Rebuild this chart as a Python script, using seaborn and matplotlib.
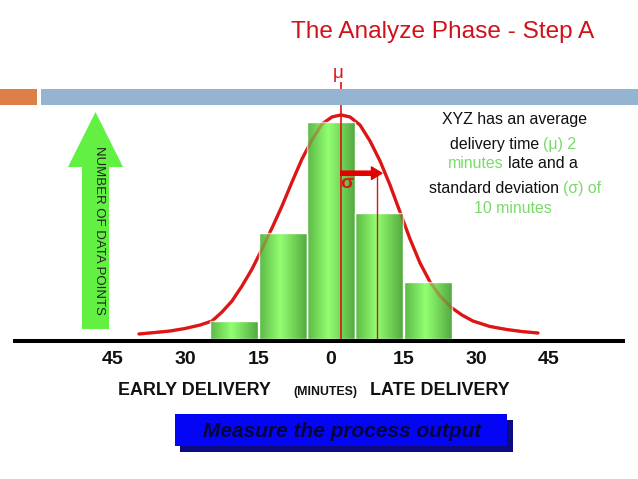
import numpy as np
import pandas as pd
import matplotlib
matplotlib.use('Agg')
import matplotlib.pyplot as plt
import seaborn as sns
from matplotlib.patches import Rectangle, Polygon, FancyArrowPatch

# ---------------- data ----------------
bin_centers = [-20, -10, 0, 10, 20]          # minutes (negative = early)
counts = [2.1, 12.2, 25.0, 14.5, 6.6]        # number of data points

curve_minutes = [-39.64, -36.33, -33.24, -30.14, -27.04, -24.57, -22.50, -20.44,
                 -18.37, -16.31, -14.24, -12.18, -10.12, -8.05, -5.99, -3.92,
                 -1.86, 0.21, 2.06, 3.92, 5.99, 8.05, 10.12, 12.18, 14.24, 16.31,
                 18.37, 20.44, 22.50, 24.98, 27.04, 29.31, 32.82, 36.33, 39.43, 42.73]
curve_values = [0.58, 0.75, 0.92, 1.21, 1.61, 2.07, 3.11, 4.38,
                6.11, 8.06, 10.37, 12.79, 15.32, 18.09, 20.74, 22.93,
                24.77, 25.58, 25.81, 25.58, 24.65, 22.81, 20.51, 17.74, 14.63, 11.52,
                8.76, 6.57, 4.95, 3.57, 2.76, 2.07, 1.44, 1.09, 0.86, 0.69]

tick_positions = [-45, -30, -15, 0, 15, 30, 45]
tick_labels = ['45', '30', '15', '0', '15', '30', '45']

mu_x = 2.0             # mean line (minutes)
sigma_line_x = 9.5     # sigma marker line as drawn
sigma_arrow_end = 10.5
sigma_level = 19.1
mu_line_top = 29.6
sigma_line_top = 19.2

title = 'The Analyze Phase - Step A'
info_lines = [
    [('XYZ has an average', 'k')],
    [('delivery time ', 'k'), ('(\u03bc) 2', 'g')],
    [('minutes', 'g'), (' late and a', 'k')],
    [('standard deviation ', 'k'), ('(\u03c3) of', 'g')],
    [('10 minutes', 'g')],
]

# ---------------- figure ----------------
W, H = 638, 479
sns.set_theme(style='white')
plt.rcParams['font.family'] = ['Liberation Sans', 'DejaVu Sans']

fig = plt.figure(figsize=(W / 100, H / 100), dpi=100)
fig.patch.set_facecolor('white')


def fx(x):
    return x / W


def fy(y):
    return 1 - y / H


RED = '#DD1515'
GREEN_TXT = '#7ADB6A'

# axes positioned in pixels: x 15..623, bottom spine at 341, top at 60
ax = fig.add_axes([fx(15), fy(341), (623 - 15) / W, (341 - 60) / H])
ax.patch.set_alpha(0)

df = pd.DataFrame({'minutes': bin_centers, 'count': counts})
sns.barplot(data=df, x='minutes', y='count', native_scale=True, width=0.99,
            color='#7EE05A', edgecolor='white', linewidth=1.0, errorbar=None,
            ax=ax, zorder=2)

# horizontal gradient for each bar
stops = np.array([0.0, 0.45, 1.0])
cols = np.array([[0x5C, 0xB8, 0x46], [0x92, 0xFF, 0x72], [0x55, 0xAA, 0x40]]) / 255.0
tt = np.linspace(0, 1, 64)
grad = np.stack([np.interp(tt, stops, cols[:, i]) for i in range(3)], axis=-1)[None, :, :]
for p in list(ax.patches):
    x0, w, h = p.get_x(), p.get_width(), p.get_height()
    p.set_facecolor('none')
    im = ax.imshow(grad, extent=[x0, x0 + w, 0, h], aspect='auto', zorder=1.9,
                   interpolation='bilinear')
    im.set_clip_path(p)

# normal curve (behind bars, with faint overlay on top)
sns.lineplot(x=curve_minutes, y=curve_values, sort=False, color=RED, linewidth=2.3,
             ax=ax, zorder=1, solid_joinstyle='round', solid_capstyle='round')
sns.lineplot(x=curve_minutes, y=curve_values, sort=False, color=RED, linewidth=2.3,
             alpha=0.3, ax=ax, zorder=2.5, solid_joinstyle='round')

# mu and sigma markers
ax.vlines(mu_x, 0, mu_line_top, color=RED, linewidth=1.2, zorder=3)
ax.vlines(sigma_line_x, 0, sigma_line_top, color=RED, linewidth=1.0, zorder=3)
arr = FancyArrowPatch((mu_x, sigma_level), (sigma_arrow_end, sigma_level),
                      arrowstyle='simple,head_length=0.75,head_width=0.9,tail_width=0.3',
                      mutation_scale=10, color='#E00000', shrinkA=0, shrinkB=0, zorder=4)
ax.add_patch(arr)

ax.set_xlim(-65.24, 60.28)
ax.set_ylim(-0.23, 32.14)
ax.set_xlabel('')
ax.set_ylabel('')
ax.set_yticks([])
ax.set_xticks(tick_positions)
ax.set_xticklabels(tick_labels, fontsize=14, fontweight='bold', color='#111111')
ax.tick_params(axis='x', length=0, pad=7.5)
for s in ['top', 'left', 'right']:
    ax.spines[s].set_visible(False)
ax.spines['bottom'].set_linewidth(2.9)
ax.spines['bottom'].set_color('black')

# ---------------- decorations ----------------
fig.patches.append(Rectangle((0, fy(105)), 37 / W, 16 / H, transform=fig.transFigure,
                             facecolor='#DD8047', edgecolor='none', zorder=5))
fig.patches.append(Rectangle((fx(41), fy(105)), (638 - 41) / W, 16 / H, transform=fig.transFigure,
                             facecolor='#94B4D2', edgecolor='none', zorder=5))

fig.text(fx(443), fy(37.7), title, color='#D0121B', fontsize=17.6, ha='center', va='baseline')
fig.text(fx(338), fy(73), '\u03bc', color=RED, fontsize=13.5, ha='center', va='center')
fig.text(fx(347), fy(183), '\u03c3', color=RED, fontsize=14, fontweight='bold',
         ha='center', va='center')

# green arrow with vertical text
arrow_pts = [(82, 329), (82, 167), (68, 167), (95.5, 112), (123, 167), (109, 167), (109, 329)]
fig.patches.append(Polygon([(fx(x), fy(y)) for x, y in arrow_pts], closed=True,
                           transform=fig.transFigure, facecolor='#62F043',
                           edgecolor='none', zorder=5))
fig.text(fx(98.5), fy(230), 'NUMBER OF DATA POINTS', rotation=270, fontsize=9.5,
         color='#222222', ha='center', va='center', zorder=6)

# bottom labels
fig.text(fx(194.5), fy(395), 'EARLY DELIVERY', fontsize=12.9, fontweight='bold',
         color='#111111', ha='center', va='baseline')
fig.text(fx(325), fy(395), '(MINUTES)', fontsize=8.9, fontweight='bold',
         color='#111111', ha='center', va='baseline')
fig.text(fx(440), fy(395), 'LATE DELIVERY', fontsize=12.9, fontweight='bold',
         color='#111111', ha='center', va='baseline')

# blue box with shadow
fig.patches.append(Rectangle((fx(180), fy(452)), (513 - 180) / W, (452 - 420) / H,
                             transform=fig.transFigure, facecolor='#0C0C80',
                             edgecolor='none', zorder=5))
fig.patches.append(Rectangle((fx(175), fy(446)), (507 - 175) / W, (446 - 414) / H,
                             transform=fig.transFigure, facecolor='#0505F5',
                             edgecolor='none', zorder=6))
fig.text(fx(342), fy(437), 'Measure the process output', fontsize=15, fontweight='bold',
         fontstyle='italic', color='#06063A', ha='center', va='baseline', zorder=7)

# right info text with coloured fragments
renderer = fig.canvas.get_renderer()
INFO_FS = 11.4


def text_w(s, fs):
    t = fig.text(0, 0, s, fontsize=fs)
    w = t.get_window_extent(renderer).width
    t.remove()
    return w


def rich_line(cx, base_y, pieces, fs):
    full = ''.join(s for s, _ in pieces)
    total = text_w(full, fs)
    x0 = cx - total / 2
    ref = text_w('l', fs)
    prefix = ''
    for s, c in pieces:
        off = (text_w(prefix + 'l', fs) - ref) if prefix else 0
        lead = len(s) - len(s.lstrip(' '))
        if lead:
            off = text_w(prefix + s[:lead] + 'l', fs) - ref
        col = '#111111' if c == 'k' else GREEN_TXT
        fig.text(fx(x0 + off), fy(base_y), s.lstrip(' '), color=col, fontsize=fs,
                 ha='left', va='baseline')
        prefix += s


info_baselines = [124, 149, 168, 193, 213]
info_centers = [514, 513, 513, 515, 513]
for pieces, yb, cx in zip(info_lines, info_baselines, info_centers):
    rich_line(cx, yb, pieces, INFO_FS)

fig.savefig('out.png', dpi=100, facecolor='white')
